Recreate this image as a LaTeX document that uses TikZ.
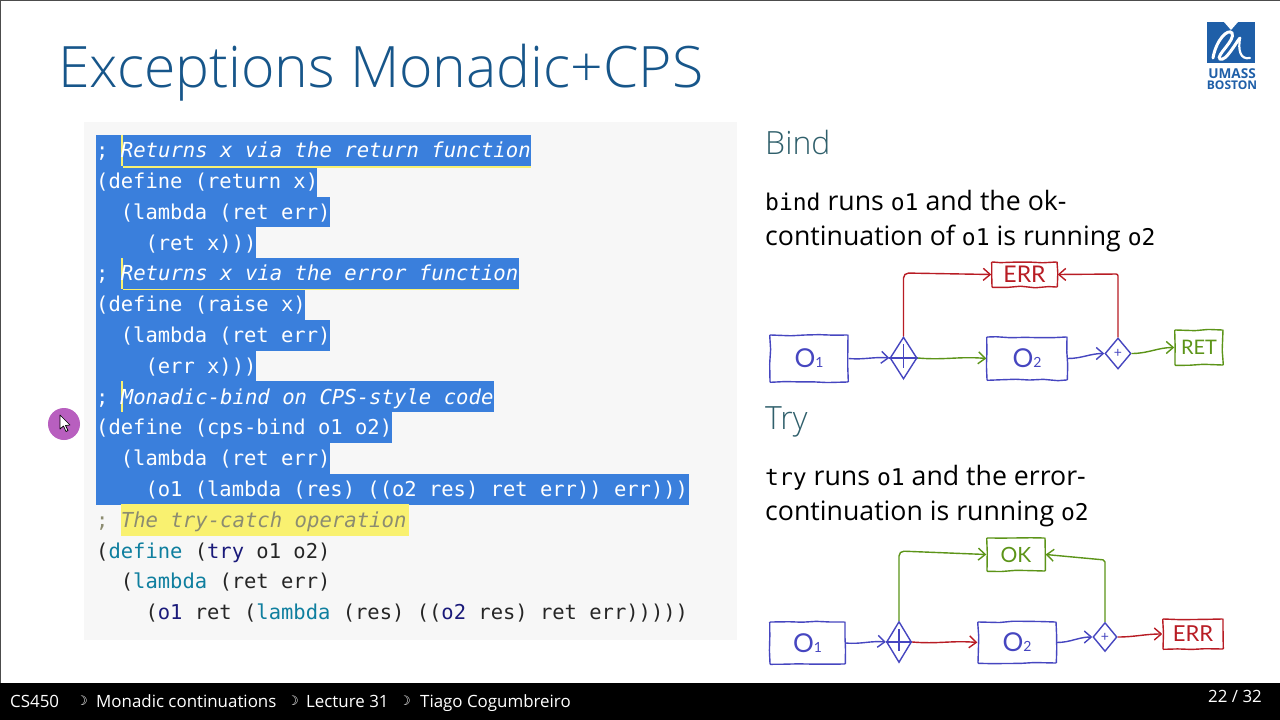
\documentclass[tikz,border=0pt]{standalone}
\usepackage{fontspec}
\usetikzlibrary{shapes.geometric,arrows.meta,decorations.pathmorphing}
\setmainfont{Open Sans}
\newfontfamily\titlefont{Open Sans Light}
\newfontfamily\codefont{DejaVu Sans Mono}
\newfontfamily\handfont{Lato}
\newfontfamily\symfont{DejaVu Sans}
\definecolor{selblue}{HTML}{3A7FDC}
\definecolor{codebg}{HTML}{F7F7F7}
\definecolor{hl}{HTML}{F9F170}
\definecolor{titlec}{HTML}{17568A}
\definecolor{headc}{HTML}{2F5F6B}
\definecolor{kw}{HTML}{0F7F9F}
\definecolor{fn}{HTML}{1A1A7A}
\definecolor{cm}{HTML}{8C8C70}
\definecolor{hblue}{HTML}{4646C0}
\definecolor{hred}{HTML}{B81C24}
\definecolor{hgreen}{HTML}{5C9418}
\definecolor{logoblue}{HTML}{1F5FA8}
\definecolor{cursorc}{HTML}{B85FBF}
\tikzset{
  codeline/.style={anchor=base west,inner sep=0pt,font=\codefont\fontsize{20.48}{24}\selectfont},
  body/.style={anchor=base west,inner sep=0pt,font=\fontsize{26.7}{30}\selectfont,text=black},
  head/.style={anchor=base west,inner sep=0pt,font=\titlefont\fontsize{32}{36}\selectfont,text=headc},
  foot/.style={anchor=base west,inner sep=0pt,font=\fontsize{16.9}{20}\selectfont,text=white},
  sketchy/.style={draw,line width=1.4pt,decorate,decoration={random steps,segment length=14pt,amplitude=.8pt},rounded corners=.6pt},
  hbox/.style={sketchy,rectangle,inner sep=0pt,font=\handfont\fontsize{#1}{#1}\selectfont},
  hdia/.style={draw,line width=1.4pt,diamond,inner sep=0pt,font=\handfont\fontsize{#1}{#1}\selectfont},
  conn/.style={line width=1.4pt,-{Straight Barb[length=7pt,width=12pt]}},
  cross/.style={line width=1.3pt},
}
\newcommand{\mm}[1]{{\codefont\fontsize{23}{30}\selectfont #1}}
\newcommand{\ic}[1]{{\fontsize{20.63}{24}\selectfont\itshape #1}}
\newcommand{\sub}[1]{{\fontsize{14}{14}\selectfont #1}}
\begin{document}
\begin{tikzpicture}[x=1pt,y=-1pt]
\pgfmathsetseed{7}
\useasboundingbox (0,0) rectangle (1280,720);
\fill[white] (0,0) rectangle (1280,720);
\draw[black!70,line width=1pt] (0.5,683) -- (0.5,0.5) -- (1280,0.5);
\fill[black] (0,683) rectangle (1280,720);
\node[anchor=base west,inner sep=0pt,text=titlec,font=\titlefont\fontsize{57.1}{64}\selectfont] (title) at (58,87) {Exceptions Monadic+CPS};
% logo
\fill[logoblue] (1207,22) rectangle (1255,63);
\fill[white] (1224,22) -- (1231,30) -- (1238,22) -- cycle;
\draw[white,line width=3pt,line cap=round] (1213,58) .. controls (1216,40) and (1228,28) .. (1232,33) .. controls (1236,40) and (1215,56) .. (1220,59) .. controls (1226,62) and (1236,42) .. (1240,38);
\draw[white,line width=2.2pt,line cap=round] (1240,38) .. controls (1238,50) and (1240,60) .. (1250,58);
\node[anchor=base,inner sep=0pt,text=logoblue,font=\bfseries\fontsize{13.6}{14}\selectfont] (um) at (1232,78) {UMASS};
\node[anchor=base,inner sep=0pt,text=logoblue,font=\bfseries\fontsize{12}{14}\selectfont] (bos) at (1232,89) {BOSTON};
% code bg
\fill[codebg] (84,122) rectangle (737,640);
% selection rows: top y = 135 + 30.8 i
\foreach \i/\e in {0/531,1/317,2/330,3/256,4/519,5/305,6/330,7/256,8/494,9/392,10/330,11/689}{
  \fill[selblue] (96,{135+30.8*\i}) rectangle (\e,{135+30.8*(\i+1)});
}
\foreach \i in {0,4,8}{\fill[hl] (121,{135+30.8*\i}) rectangle (123,{135+30.8*(\i+1)});}
\fill[hl] (123,166) rectangle (531,167.5);
\fill[hl] (123,289) rectangle (519,290);
\fill[hl] (121,504) rectangle (409,536);
\foreach \i/\t/\c in {
 0/{;\ \ic{Returns x via the return function}}/white,
 1/{(define (return x)}/white,
 2/{\ \ (lambda (ret err)}/white,
 3/{\ \ \ \ (ret x)))}/white,
 4/{;\ \ic{Returns x via the error function}}/white,
 5/{(define (raise x)}/white,
 6/{\ \ (lambda (ret err)}/white,
 7/{\ \ \ \ (err x)))}/white,
 8/{;\ \ic{Monadic-bind on CPS-style code}}/white,
 9/{(define (cps-bind o1 o2)}/white,
 10/{\ \ (lambda (ret err)}/white,
 11/{\ \ \ \ (o1 (lambda (res) ((o2 res) ret err)) err)))}/white,
 12/{;\ \ic{The try-catch operation}}/cm,
 13/{(\textcolor{kw}{define} (\textcolor{fn}{try} o1 o2)}/black!85,
 14/{\ \ (\textcolor{kw}{lambda} (ret err)}/black!85,
 15/{\ \ \ \ (\textcolor{fn}{o1} ret (\textcolor{kw}{lambda} (res) ((\textcolor{fn}{o2} res) ret err)))))}/black!85}{
  \node[codeline,text=\c] (code\i) at (96,{157.7+30.8*\i}) {\t};
}
% cursor
\fill[cursorc] (64,424) circle (16);
\draw[black,fill=white,line width=.7pt,line join=round] (60,415) -- (60,429) -- (63.5,426) -- (66,431.5) -- (68,430.5) -- (65.5,425.5) -- (70,425) -- cycle;
% right column
\node[head] (bindh) at (765,154) {Bind};
\node[body] (b1) at (765,210) {\mm{bind} runs \mm{o1} and the ok-};
\node[body] (b2) at (765,245) {continuation of \mm{o1} is running \mm{o2}};
\node[head] (tryh) at (765,429) {Try};
\node[body] (t1) at (765,485) {\mm{try} runs \mm{o1} and the error-};
\node[body] (t2) at (765,520) {continuation is running \mm{o2}};
% bind diagram
\node[hbox=26,draw=hblue,text=hblue,minimum width=78pt,minimum height=47pt] (ao) at (809,358.5) {O\sub{1}};
\node[hdia=10,draw=hblue,minimum width=27pt,minimum height=42pt] (ad) at (903.5,358) {};
\draw[cross,hblue] (ad.west) -- (ad.east);
\draw[cross,hblue,shorten <=8pt,shorten >=12pt] (ad.north) -- (ad.south);
\node[hbox=26,draw=hblue,text=hblue,minimum width=80pt,minimum height=43pt] (ap) at (1027,358.5) {O\sub{2}};
\node[hdia=14,draw=hblue,text=hblue,minimum width=26pt,minimum height=31pt] (ae) at (1118,353.5) {+};
\node[hbox=23,draw=hred,text=hred,minimum width=65pt,minimum height=25pt] (ar) at (1024.5,274.5) {ERR};
\node[hbox=20,draw=hgreen,text=hgreen,minimum width=48pt,minimum height=35pt] (ag) at (1199,347.5) {RET};
\draw[conn,hblue] (ao.east) to[out=-5,in=175] (ad.west);
\draw[conn,hgreen] (ad.east) to[out=-5,in=175] (ap.west);
\draw[conn,hblue] (ap.east) to[out=0,in=180] (ae.west);
\draw[conn,hgreen] (ae.east) to[out=0,in=180] (ag.west);
\draw[conn,hred,rounded corners=5pt] (ad.north) -- (903.5,273) -- (ar.west);
\draw[conn,hred,rounded corners=2pt] (ae.north) -- (1118,274) -- (ar.east);
% try diagram
\node[hbox=26,draw=hblue,text=hblue,minimum width=75pt,minimum height=42pt] (bo) at (807.5,643) {O\sub{1}};
\node[hdia=10,draw=hblue,minimum width=25pt,minimum height=41pt] (bd) at (899,642) {};
\draw[cross,hblue] (bd.west) -- (bd.east);
\draw[cross,hblue,shorten <=8pt,shorten >=12pt] (bd.north) -- (bd.south);
\node[hbox=26,draw=hblue,text=hblue,minimum width=78pt,minimum height=41pt] (bp) at (1017,642.5) {O\sub{2}};
\node[hdia=14,draw=hblue,text=hblue,minimum width=24pt,minimum height=29pt] (be) at (1105,637) {+};
\node[hbox=21,draw=hgreen,text=hgreen,minimum width=58pt,minimum height=33pt] (bg) at (1016,554.5) {OK};
\node[hbox=22,draw=hred,text=hred,minimum width=60pt,minimum height=30pt] (br) at (1193,634) {ERR};
\draw[conn,hblue] (bo.east) to[out=-5,in=175] (bd.west);
\draw[conn,hred] (bd.east) to[out=-5,in=175] (bp.west);
\draw[conn,hblue] (bp.east) to[out=0,in=180] (be.west);
\draw[conn,hred] (be.east) to[out=0,in=180] (br.west);
\draw[conn,hgreen,rounded corners=5pt] (bd.north) -- (899,551) -- (bg.west);
\draw[conn,hgreen,rounded corners=2pt] (be.north) -- (1105,560) -- (bg.east);
% footer
\node[foot] (f1) at (10,707) {CS450};
\node[foot] (f2) at (96,707) {Monadic continuations};
\node[foot] (f3) at (306,707) {Lecture 31};
\node[foot] (f4) at (420,707) {Tiago Cogumbreiro};
\node[foot] (p) at (1208,702) {22 / 32};
\foreach \x in {82,293,405}{\node[inner sep=0pt,text=white,font=\symfont\fontsize{13}{14}\selectfont] at (\x,701) {☽};}
\end{tikzpicture}
\end{document}
